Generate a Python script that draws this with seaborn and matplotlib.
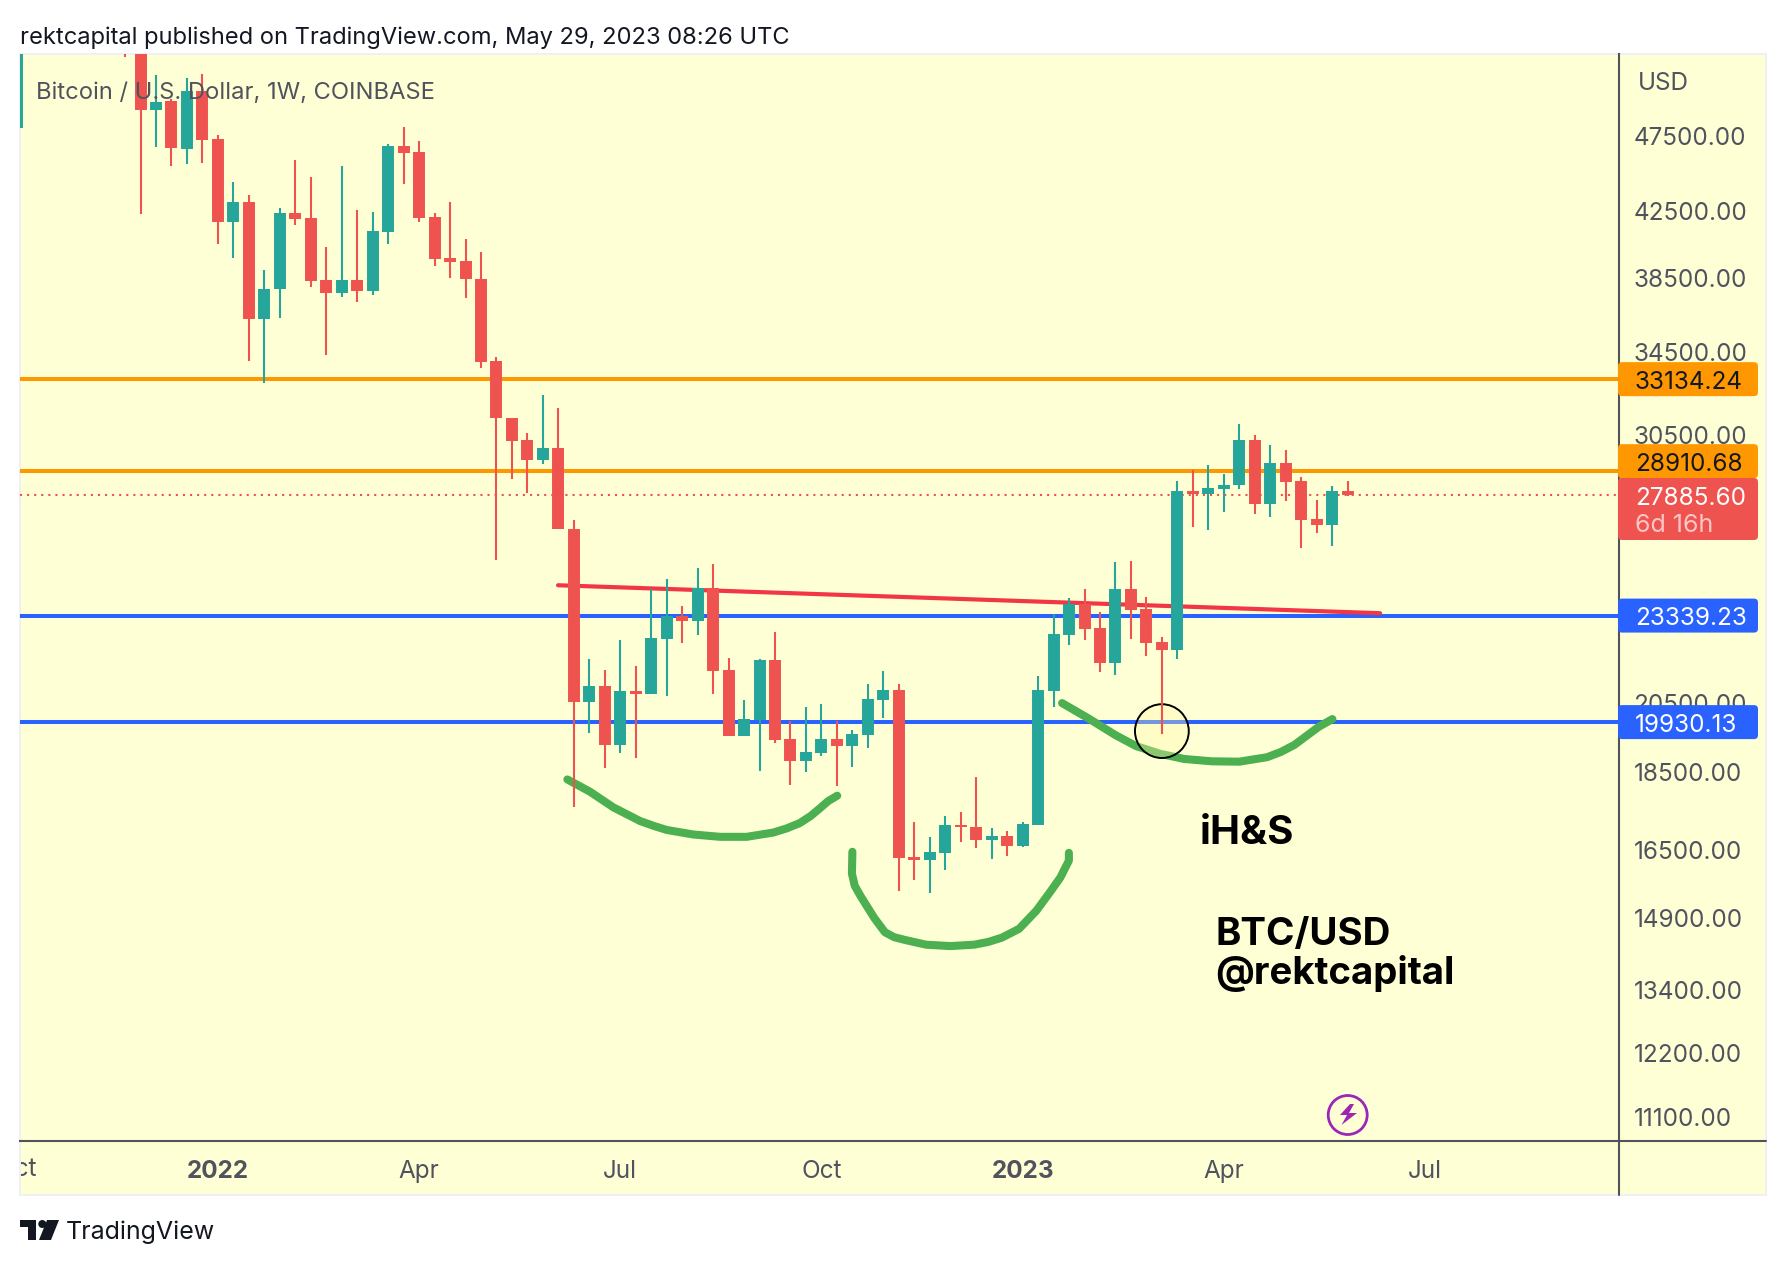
"""Bitcoin weekly candles with inverse head and shoulders markup."""

import matplotlib

matplotlib.use("Agg")

import matplotlib.pyplot as plt
import pandas as pd
import seaborn as sns
from matplotlib.patches import FancyBboxPatch, Polygon, Circle, Rectangle
from matplotlib.ticker import NullFormatter
from matplotlib.transforms import Bbox, IdentityTransform

# weekly candles, week 0 is the first week of 2022
weeks = [-13, -6, -5, -4, -3, -2, -1] + list(range(0, 74))
opens = [
    48100, 58900, 57200, 49380, 50020, 46610, 50765,
    47300, 41810, 43070, 36220, 37850, 42367, 42047, 38351, 37634, 38351,
    37740, 41180, 46800, 46385, 42110, 39640, 39460, 38410, 34025, 31290,
    30287, 29383, 29913, 26546, 20530, 21018, 19260, 20866, 20774, 22535,
    23315, 23140, 24300, 21518, 19520, 19990, 21847, 19430, 18800, 19035,
    19430, 19230, 19540, 20591, 20895, 16318, 16245, 16416, 17100, 17073,
    16735, 16830, 16590, 17100, 20866, 22670, 23740, 22920, 21750, 24270,
    23565, 22440, 22175, 28065, 27940, 28150, 28310, 30280, 27530, 29250,
    28480, 26920, 26700, 28065,
]
highs = [
    48100, 59500, 59100, 51970, 50170, 51800, 52060,
    47580, 44400, 43550, 38925, 42680, 45834, 44731, 40290, 45420, 42550,
    42430, 46940, 48170, 47140, 42367, 43070, 40770, 39990, 34230, 31290,
    30597, 32360, 31739, 26875, 21879, 21518, 22505, 21650, 24270, 24650,
    23670, 25030, 25190, 21910, 20591, 21880, 22784, 19960, 20380, 20470,
    19960, 19685, 21080, 21486, 21080, 17178, 16800, 17330, 17440, 18383,
    17040, 16970, 17178, 21330, 23390, 23950, 24270, 23460, 25250, 25300,
    23985, 22610, 28490, 28950, 29170, 28790, 31000, 30480, 30050, 29825,
    28650, 27695, 28270, 28490,
]
lows = [
    48100, 53400, 42300, 46730, 45420, 45560, 45620,
    40470, 39640, 34025, 32940, 36260, 41663, 37965, 34333, 37414, 37140,
    37524, 40470, 44223, 41855, 39160, 38500, 37360, 33670, 25336, 28588,
    27982, 29200, 26517, 17573, 19600, 18609, 19034, 18893, 20774, 20714,
    22405, 22670, 20774, 19520, 19520, 18530, 19320, 18150, 18500, 18950,
    18120, 18660, 19175, 20050, 15516, 15780, 15470, 16000, 16690, 16540,
    16270, 16340, 16565, 17100, 20380, 22340, 22505, 21455, 21360, 22535,
    21980, 19570, 21880, 26620, 26480, 27200, 28150, 27130, 27000, 27650,
    25810, 26365, 25870, 27860,
]
closes = [
    55000, 57200, 49380, 49950, 46680, 50765, 47260,
    41810, 43070, 36220, 37850, 42367, 41983, 38296, 37634, 38351, 37740,
    41240, 46800, 46310, 42047, 39578, 39400, 38410, 33974, 31264, 30222,
    29383, 29913, 26517, 20530, 21018, 19260, 20866, 20774, 22570, 23315,
    23140, 24300, 21486, 19520, 20020, 21847, 19400, 18800, 19065, 19430,
    19230, 19570, 20620, 20895, 16294, 16245, 16440, 17100, 17050, 16735,
    16830, 16590, 17125, 20895, 22700, 23740, 22885, 21750, 24270, 23530,
    22405, 22175, 28065, 27940, 28190, 28310, 30280, 27530, 29250, 28440,
    26875, 26700, 28065, 27885.6,
]

price_ticks = [47500, 42500, 38500, 34500, 30500, 20500, 18500, 16500, 14900, 13400, 12200, 11100]
time_ticks = [0, 13, 26, 39, 52, 65, 78]
time_labels = ["2022", "Apr", "Jul", "Oct", "2023", "Apr", "Jul"]
clipped_tick_week = -13
clipped_tick_label = "Oct"

level_prices = [33134.24, 28910.68, 23339.23, 19930.13]
last_price = 27885.60

neckline_weeks = [21.98, 75.1]
neckline_prices = [24412, 23421]

left_shoulder_weeks = [22.58, 24.05, 25.55, 27.28, 28.15, 29.0, 30.72, 32.45, 34.17, 35.89, 36.75, 37.6, 38.3, 38.9, 39.44, 40.02]
left_shoulder_prices = [18306, 17975, 17565, 17212, 17090, 16986, 16872, 16814, 16814, 16921, 17025, 17160, 17340, 17540, 17730, 17870]
head_weeks = [41.0, 40.97, 41.15, 41.54, 42.42, 43.1, 43.7, 44.43, 45.76, 47.32, 48.88, 49.8, 50.66, 51.77, 52.89, 53.77, 54.44, 54.99, 54.99]
head_prices = [16445, 15922, 15640, 15393, 14906, 14597, 14490, 14428, 14330, 14300, 14330, 14390, 14480, 14670, 15070, 15490, 15830, 16230, 16420]
right_shoulder_weeks = [54.55, 56.22, 58.0, 59.33, 60.89, 62.45, 64.23, 66.0, 67.8, 68.7, 69.57, 71.13, 72.02]
right_shoulder_prices = [20500, 20050, 19550, 19235, 19015, 18870, 18805, 18795, 18920, 19070, 19270, 19790, 20020]

circle_week = [61.0]
circle_price = [19666]

W, H = 1786, 1266
LEFT, RIGHT, TOP, BOTTOM = 20, 1619, 54, 1141
PANEL_RIGHT, PANEL_BOTTOM = 1766, 1195

UP = "#26a69a"
DOWN = "#ef5350"
ORANGE = "#ff9800"
BLUE = "#2962ff"
GREEN = "#4caf50"
AXIS = "#50535e"
PANEL = "#ffffd6"
FONT = "Inter"

sns.set_theme(style="white")
plt.rcParams["font.family"] = [FONT, "DejaVu Sans"]

fig = plt.figure(figsize=(W / 100, H / 100), dpi=100, facecolor="white")
ax = fig.add_axes([LEFT / W, 1 - BOTTOM / H, (RIGHT - LEFT) / W, (BOTTOM - TOP) / H])
ax.patch.set_alpha(0)
ax.set_yscale("log")
ax.set_xlim(-12.79, 90.54)
ax.set_ylim(10712, 53650)

candles = pd.DataFrame(
    {"week": weeks, "open": opens, "high": highs, "low": lows, "close": closes}
)
candles["side"] = ["up" if c >= o else "down" for o, c in zip(opens, closes)]
palette = {"up": UP, "down": DOWN}

wicks = candles.melt(["week", "side"], ["high", "low"], value_name="price")
bodies = candles.melt(["week", "side"], ["open", "close"], value_name="price")

# reference levels sit under everything else
for price, color in zip(level_prices, [ORANGE, ORANGE, BLUE, BLUE]):
    ax.axhline(price, color=color, lw=2.9, zorder=1)
ax.axhline(last_price, color=DOWN, lw=1.5, ls=(0, (1.0, 2.4)), zorder=1)

sns.lineplot(
    x=neckline_weeks, y=neckline_prices, color="#f23645", lw=3.0, ax=ax,
    estimator=None, sort=False, solid_capstyle="round", zorder=1.5,
)
for xs, ys in [
    (left_shoulder_weeks, left_shoulder_prices),
    (head_weeks, head_prices),
    (right_shoulder_weeks, right_shoulder_prices),
]:
    sns.lineplot(
        x=xs, y=ys, color=GREEN, lw=5.8, ax=ax, estimator=None, sort=False,
        solid_capstyle="round", solid_joinstyle="round", zorder=2,
    )
sns.scatterplot(
    x=circle_week, y=circle_price, s=1500, color="#fff7a8", alpha=0.35,
    edgecolor="none", ax=ax, zorder=2.5,
)
sns.scatterplot(
    x=circle_week, y=circle_price, s=1500, facecolor="none", edgecolor="black",
    linewidth=1.4, ax=ax, zorder=2.6,
)

sns.lineplot(
    data=wicks, x="week", y="price", hue="side", units="week", estimator=None,
    palette=palette, lw=1.5, legend=False, sort=False, ax=ax,
    solid_capstyle="butt", zorder=3,
)
sns.lineplot(
    data=bodies, x="week", y="price", hue="side", units="week", estimator=None,
    palette=palette, lw=8.6, legend=False, sort=False, ax=ax,
    solid_capstyle="butt", zorder=3.1,
)

ax.set_xlabel("")
ax.set_ylabel("")
ax.yaxis.tick_right()
ax.set_yticks(price_ticks, labels=[f"{p:.2f}" for p in price_ticks])
ax.yaxis.set_minor_formatter(NullFormatter())
ax.tick_params(axis="y", which="both", length=0, pad=10.5, labelsize=17.5, labelcolor=AXIS)
ax.set_xticks(time_ticks, labels=time_labels)
ax.tick_params(axis="x", length=0, pad=14, labelsize=17.5, labelcolor=AXIS)
for lab in ax.get_xticklabels():
    if lab.get_text() in ("2022", "2023"):
        lab.set_fontweight("bold")

for side in ("top", "left"):
    ax.spines[side].set_visible(False)
for side in ("right", "bottom"):
    ax.spines[side].set_color(AXIS)
    ax.spines[side].set_linewidth(1.5)

px = IdentityTransform()


def add_px(artist):
    fig.add_artist(artist)
    return artist


def text_px(x, y, s, **kw):
    kw.setdefault("va", "center")
    return fig.text(x, H - y - 3, s, transform=px, zorder=6, **kw)


def price_y(price):
    return H - ax.transData.transform((0, price))[1]


# yellow panel and the pieces of the axis cross that leave the axes
add_px(Rectangle(
    (LEFT, H - PANEL_BOTTOM), PANEL_RIGHT - LEFT, PANEL_BOTTOM - TOP,
    facecolor=PANEL, edgecolor="#eef0f2", lw=1.5, transform=px, zorder=-1,
))
add_px(plt.Line2D([RIGHT, RIGHT], [H - BOTTOM, H - PANEL_BOTTOM], color=AXIS, lw=1.5, transform=px, zorder=2))
add_px(plt.Line2D([RIGHT, PANEL_RIGHT], [H - BOTTOM, H - BOTTOM], color=AXIS, lw=1.5, transform=px, zorder=2))

# the first month label is cut by the panel edge
oct_x = ax.transData.transform((clipped_tick_week, 20000))[0]
oct_label = text_px(oct_x, 1167, clipped_tick_label, color=AXIS, fontsize=17.5, ha="center")
oct_label.set_clip_box(Bbox.from_extents(LEFT + 1, 0, W, H))
oct_label.set_clip_on(True)

# price tags
BOX_X, BOX_W, TXT_X = 1618, 140, 1635
for price, color, txt_color, nudge in [
    (level_prices[0], ORANGE, "#131722", 0),
    (level_prices[1], ORANGE, "#131722", -10),
    (level_prices[2], BLUE, "white", 0),
    (level_prices[3], BLUE, "white", 0),
]:
    yc = price_y(price) + nudge
    add_px(FancyBboxPatch(
        (BOX_X, H - yc - 17), BOX_W, 34, boxstyle="round,pad=0,rounding_size=4",
        facecolor=color, edgecolor="none", transform=px, zorder=4,
    ))
    text_px(TXT_X, yc, f"{price:.2f}", color=txt_color, fontsize=17.5)

add_px(FancyBboxPatch(
    (BOX_X, H - 540), BOX_W, 62, boxstyle="round,pad=0,rounding_size=4",
    facecolor=DOWN, edgecolor="none", transform=px, zorder=4,
))
text_px(TXT_X, price_y(last_price), f"{last_price:.2f}", color="white", fontsize=17.5)
text_px(TXT_X, 523, "6d 16h", color="#fbc6c5", fontsize=18)
text_px(1638, 80, "USD", color=AXIS, fontsize=17.5)

text_px(20, 35, "rektcapital published on TradingView.com, May 29, 2023 08:26 UTC",
        color="#131722", fontsize=17.05)
text_px(36, 90, "Bitcoin / U.S. Dollar, 1W, COINBASE", color=AXIS, fontsize=17.1)

text_px(1200, 830, "iH&S", color="black", fontsize=29, fontweight="bold")
text_px(1215, 932, "BTC/USD", color="black", fontsize=27.7, fontweight="bold")
text_px(1215, 971, "@rektcapital", color="black", fontsize=27.6, fontweight="bold")

# footer logo
LOGO = "#131722"
add_px(Polygon([(20, H - 1220), (36, H - 1220), (36, H - 1240), (28, H - 1240), (28, H - 1227), (20, H - 1227)],
               facecolor=LOGO, edgecolor="none", transform=px))
add_px(Circle((42.3, H - 1224), 4, facecolor=LOGO, edgecolor="none", transform=px))
add_px(Polygon([(47, H - 1220), (59, H - 1220), (51, H - 1240), (39, H - 1240)],
               facecolor=LOGO, edgecolor="none", transform=px))
text_px(66, 1229, "TradingView", color=LOGO, fontsize=18)

# lightning badge
add_px(Circle((1347.7, H - 1115), 21.5, facecolor="white", edgecolor="none", transform=px, zorder=3))
add_px(Circle((1347.7, H - 1115), 19.5, facecolor=PANEL, edgecolor="#9c27b0", lw=2, transform=px, zorder=3))
bx, by = 1300, 1080
add_px(Polygon(
    [(bx + 50, H - by - 24), (bx + 40, H - by - 35), (bx + 47, H - by - 35), (bx + 41.5, H - by - 45),
     (bx + 57, H - by - 33), (bx + 49, H - by - 33), (bx + 54, H - by - 24)],
    facecolor="#9c27b0", edgecolor="none", transform=px, zorder=3,
))

fig.savefig("out.png", dpi=100, facecolor="white")
